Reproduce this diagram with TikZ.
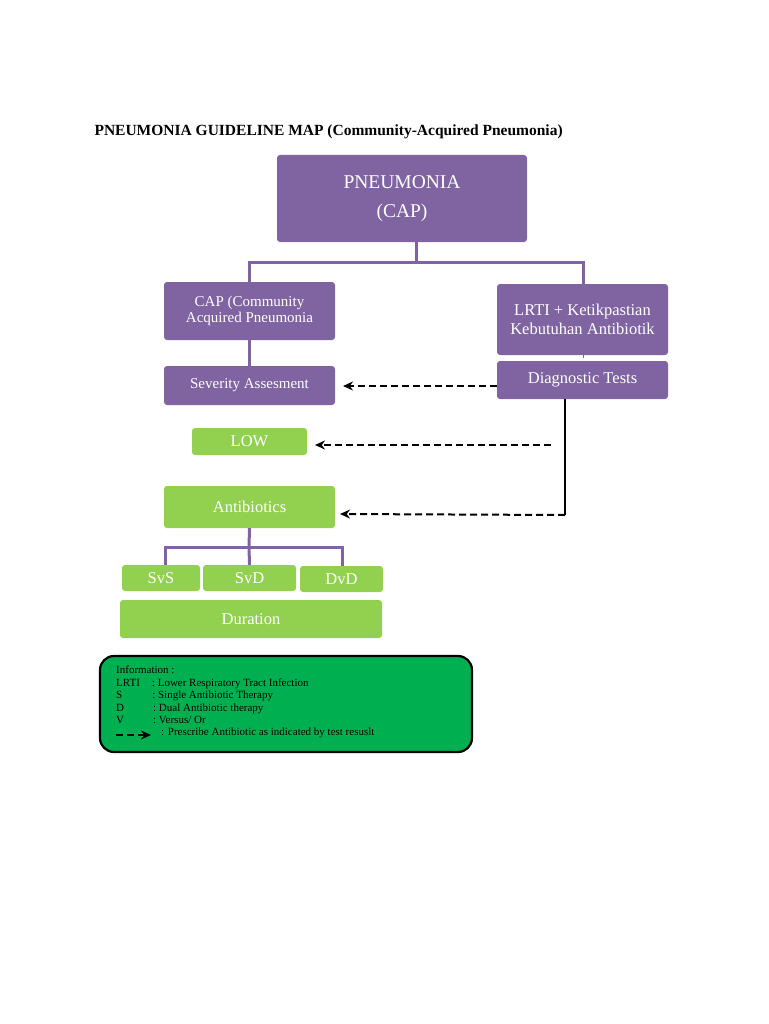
\documentclass[tikz,border=0pt]{standalone}
\usepackage{fontspec}
\setmainfont{Liberation Serif}
\usetikzlibrary{arrows.meta}
\definecolor{pur}{HTML}{8064A2}
\definecolor{grn}{HTML}{92D050}
\definecolor{lg}{HTML}{00B050}
\begin{document}
\begin{tikzpicture}[x=1pt,y=-1pt,
 pbox/.style={fill=pur,draw=none,rounded corners=3pt,text=white,align=center,inner sep=0pt},
 gbox/.style={fill=grn,draw=none,rounded corners=3pt,text=white,align=center,inner sep=0pt},
 conn/.style={draw=pur,line width=3pt},
 dasharr/.style={draw=black,line width=2pt,dash pattern=on 7pt off 4pt,-{Stealth[length=10pt,width=9pt]}}]
\useasboundingbox (0,0) rectangle (768,1024);
\node[anchor=west,font=\bfseries\fontsize{15.5}{17}\selectfont] (title) at (91,132) {PNEUMONIA GUIDELINE MAP (Community-Acquired Pneumonia)};
\node[pbox,minimum width=250,minimum height=87,font=\fontsize{19.5}{29}\selectfont] (pn) at (402,198.5) {PNEUMONIA\\(CAP)};
\node[pbox,minimum width=171,minimum height=58,font=\fontsize{15}{16}\selectfont] (cap) at (249.5,311) {CAP (Community\\Acquired Pneumonia};
\node[pbox,minimum width=171,minimum height=71,font=\fontsize{16.5}{19}\selectfont] (lrti) at (582.5,319.5) {LRTI + Ketikpastian\\Kebutuhan Antibiotik};
\node[pbox,minimum width=171,minimum height=39,font=\fontsize{15}{16}\selectfont] (sev) at (249.5,385.5) {Severity Assesment};
\node[pbox,minimum width=171,minimum height=38,font=\fontsize{16.5}{18}\selectfont] (diag) at (582.5,380) {Diagnostic Tests};
\node[gbox,minimum width=115,minimum height=27,font=\fontsize{16.5}{18}\selectfont] (low) at (249.5,441.5) {LOW};
\node[gbox,minimum width=171,minimum height=42,font=\fontsize{16.5}{18}\selectfont] (ab) at (249.5,507) {Antibiotics};
\node[gbox,minimum width=78,minimum height=26,font=\fontsize{16.5}{18}\selectfont] (svs) at (161,578) {SvS};
\node[gbox,minimum width=93,minimum height=26,font=\fontsize{16.5}{18}\selectfont] (svd) at (249.5,578) {SvD};
\node[gbox,minimum width=83,minimum height=26,font=\fontsize{16.5}{18}\selectfont] (dvd) at (341.5,579) {DvD};
\node[gbox,minimum width=262,minimum height=38,font=\fontsize{16.5}{18}\selectfont] (dur) at (251,619) {Duration};
% connectors
\coordinate (j1) at (416,262);
\draw[conn] (416,242) -- (j1);
\draw[conn] (cap.north -| 249,0) |- (j1) -| (lrti.north -| 583,0);
\draw[conn] (cap.south) -- (sev.north);
\draw[draw=pur,line width=1pt] (lrti.south -| 583,0) -- ++(0,3);
\coordinate (j2) at (249,547);
\draw[conn] (ab.south) -- (j2);
\draw[conn] (svs.north -| 165,0) |- (j2) -| (dvd.north -| 342,0);
\draw[conn] (j2) -- (svd.north);
% dashed
\coordinate (v1) at (565,399);
\coordinate (v3) at (565,515);
\draw[dasharr] (diag.west |- 0,386) -- (343,386);
\draw[black,line width=2pt] (v1) -- (v3);
\draw[dasharr] (551,445) -- (315,445);
\draw[dasharr] (v3) -- (340,514);
% legend
\node[draw=black,line width=2.2pt,fill=lg,rounded corners=14pt,minimum width=372,minimum height=96,inner sep=0pt] (leg) at (286,704) {};
\node[anchor=north west,align=left,font=\fontsize{11}{12.4}\selectfont,inner sep=0pt] (legt) at (116,666) {%
Information :\\
LRTI\hspace{12pt}: Lower Respiratory Tract Infection\\
S\hspace{30pt}: Single Antibiotic Therapy\\
D\hspace{29pt}: Dual Antibiotic therapy\\
V\hspace{29pt}: Versus/ Or\\
\hspace{45pt}: Prescribe Antibiotic as indicated by test resuslt};
\coordinate (la) at (116,735);
\draw[dasharr] (la) -- ++(35,0);
\end{tikzpicture}
\end{document}
